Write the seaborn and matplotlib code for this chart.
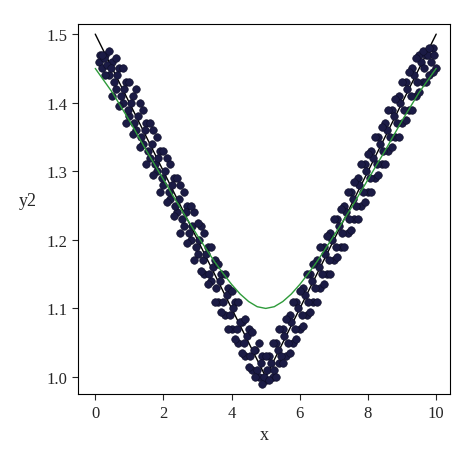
import matplotlib
matplotlib.use("Agg")
import matplotlib.pyplot as plt
import seaborn as sns

x1 = [0.1,0.2,0.3,0.4,0.5,0.6,0.7,0.8,0.9,1.0,1.1,1.2,1.3,1.4,1.5,1.6,1.7,1.8,1.9,2.0,
      2.1,2.2,2.3,2.4,2.5,2.6,2.7,2.8,2.9,3.0,3.1,3.2,3.3,3.4,3.5,3.6,3.7,3.8,3.9,4.0,
      4.1,4.2,4.3,4.4,4.5,4.6,4.7,4.8,4.9,5.0,5.1,5.2,5.3,5.4,5.5,5.6,5.7,5.8,5.9,6.0,
      6.1,6.2,6.3,6.4,6.5,6.6,6.7,6.8,6.9,7.0,7.1,7.2,7.3,7.4,7.5,7.6,7.7,7.8,7.9,8.0,
      8.1,8.2,8.3,8.4,8.5,8.6,8.7,8.8,8.9,9.0,9.1,9.2,9.3,9.4,9.5,9.6,9.7,9.8,9.9,10.0]
y1 = [1.46,1.45,1.47,1.44,1.46,1.42,1.45,1.40,1.43,1.38,1.41,1.36,1.40,1.34,1.37,1.32,1.36,1.30,1.33,1.28,
      1.32,1.26,1.29,1.24,1.28,1.22,1.25,1.20,1.24,1.18,1.22,1.15,1.19,1.14,1.17,1.11,1.15,1.09,1.13,1.07,
      1.11,1.05,1.08,1.03,1.07,1.01,1.04,1.00,1.03,0.995,1.03,1.00,1.05,1.02,1.07,1.03,1.09,1.05,1.11,1.07,
      1.13,1.09,1.15,1.11,1.17,1.13,1.19,1.15,1.21,1.17,1.23,1.19,1.25,1.21,1.27,1.23,1.29,1.25,1.31,1.27,
      1.33,1.29,1.35,1.31,1.37,1.33,1.39,1.35,1.41,1.37,1.43,1.39,1.45,1.41,1.47,1.43,1.47,1.44,1.48,1.45]
x2 = [0.15,0.25,0.35,0.45,0.55,0.65,0.75,0.85,0.95,1.05,1.15,1.25,1.35,1.45,1.55,1.65,1.75,1.85,1.95,2.05,
      2.15,2.25,2.35,2.45,2.55,2.65,2.75,2.85,2.95,3.05,3.15,3.25,3.35,3.45,3.55,3.65,3.75,3.85,3.95,4.05,
      4.15,4.25,4.35,4.45,4.55,4.65,4.75,4.85,4.95,5.05,5.15,5.25,5.35,5.45,5.55,5.65,5.75,5.85,5.95,6.05,
      6.15,6.25,6.35,6.45,6.55,6.65,6.75,6.85,6.95,7.05,7.15,7.25,7.35,7.45,7.55,7.65,7.75,7.85,7.95,8.05,
      8.15,8.25,8.35,8.45,8.55,8.65,8.75,8.85,8.95,9.05,9.15,9.25,9.35,9.45,9.55,9.65,9.75,9.85,9.95]
y2 = [1.47,1.465,1.455,1.45,1.43,1.44,1.41,1.42,1.39,1.40,1.37,1.38,1.35,1.36,1.33,1.34,1.31,1.32,1.29,1.30,
      1.27,1.28,1.25,1.26,1.23,1.24,1.21,1.22,1.19,1.20,1.17,1.18,1.15,1.16,1.13,1.14,1.11,1.12,1.09,1.10,
      1.07,1.08,1.05,1.06,1.03,1.04,1.01,1.02,1.00,1.01,1.02,1.01,1.04,1.03,1.06,1.05,1.08,1.07,1.10,1.09,
      1.12,1.11,1.14,1.13,1.16,1.15,1.18,1.17,1.20,1.19,1.22,1.21,1.24,1.23,1.26,1.25,1.28,1.27,1.30,1.29,
      1.32,1.31,1.34,1.33,1.36,1.35,1.38,1.37,1.40,1.39,1.42,1.41,1.44,1.43,1.46,1.45,1.47,1.46,1.47]
x3 = [0.2,0.4,0.6,0.8,1.0,1.2,1.4,1.6,1.8,2.0,2.2,2.4,2.6,2.8,3.0,3.2,3.4,3.6,3.8,4.0,4.2,4.4,4.6,4.8,5.0,
      5.2,5.4,5.6,5.8,6.0,6.2,6.4,6.6,6.8,7.0,7.2,7.4,7.6,7.8,8.0,8.2,8.4,8.6,8.8,9.0,9.2,9.4,9.6,9.8]
y3 = [1.47,1.475,1.465,1.45,1.43,1.42,1.39,1.37,1.35,1.33,1.31,1.29,1.27,1.25,1.225,1.21,1.19,1.165,1.15,1.125,
      1.11,1.085,1.065,1.05,1.03,1.05,1.07,1.085,1.11,1.125,1.15,1.165,1.19,1.205,1.23,1.245,1.27,1.285,1.31,
      1.325,1.35,1.365,1.39,1.405,1.43,1.445,1.465,1.475,1.48]
x4 = [0.3,0.5,0.7,0.9,1.1,1.3,1.5,1.7,1.9,2.1,2.3,2.5,2.7,2.9,3.1,3.3,3.5,3.7,3.9,4.1,4.3,4.5,4.7,4.9,5.1,
      5.3,5.5,5.7,5.9,6.1,6.3,6.5,6.7,6.9,7.1,7.3,7.5,7.7,7.9,8.1,8.3,8.5,8.7,8.9,9.1,9.3,9.5,9.7,9.9]
y4 = [1.44,1.41,1.395,1.37,1.355,1.335,1.31,1.295,1.27,1.255,1.235,1.21,1.195,1.17,1.155,1.135,1.11,1.095,1.07,
      1.055,1.035,1.015,1.0,0.99,0.995,1.0,1.02,1.035,1.055,1.075,1.095,1.11,1.135,1.15,1.175,1.19,1.215,1.23,
      1.255,1.27,1.295,1.31,1.335,1.35,1.375,1.39,1.415,1.43,1.445]
vx = [0, 5, 10]
vy = [1.5, 1.0, 1.5]
gx = [0,0.5,1,1.5,2,2.5,3,3.25,3.5,3.75,4,4.25,4.5,4.75,5,5.25,5.5,5.75,6,6.25,6.5,6.75,7,7.5,8,8.5,9,9.5,10]
gy = [1.45,1.415,1.374,1.33,1.288,1.246,1.206,1.187,1.168,1.151,1.135,1.121,1.11,1.1025,1.10,1.1025,1.11,1.121,
      1.135,1.151,1.168,1.187,1.206,1.246,1.288,1.33,1.374,1.415,1.45]

sns.set_theme(style="ticks")
plt.rcParams['font.family'] = ['Liberation Serif', 'DejaVu Serif']
fig = plt.figure(figsize=(4.74, 4.6), dpi=100)
ax = fig.add_axes([0.165, 0.141, 0.784, 0.805])
sns.lineplot(x=vx, y=vy, ax=ax, color="black", lw=1.0)
for xs, ys in [(x1, y1), (x2, y2), (x3, y3), (x4, y4)]:
    sns.scatterplot(x=xs, y=ys, ax=ax, color="#1b1b45", s=30, edgecolor="#0d0d25", linewidth=0.4, zorder=3)
sns.lineplot(x=gx, y=gy, ax=ax, color="#2e9b3a", lw=1.0, zorder=4)
ax.set_xlim(-0.5, 10.4)
ax.set_ylim(0.975, 1.515)
ax.set_xticks([0, 2, 4, 6, 8, 10])
ax.set_yticks([1.0, 1.1, 1.2, 1.3, 1.4, 1.5])
ax.set_yticklabels(["1.0", "1.1", "1.2", "1.3", "1.4", "1.5"])
ax.tick_params(labelsize=12, direction="out", length=4, width=0.8)
for s in ax.spines.values():
    s.set_visible(True); s.set_linewidth(0.8); s.set_color("black")
ax.set_xlabel("x", fontsize=13)
ax.set_ylabel("y2", fontsize=13, rotation=0, labelpad=14)
fig.savefig("out.png", dpi=100)
